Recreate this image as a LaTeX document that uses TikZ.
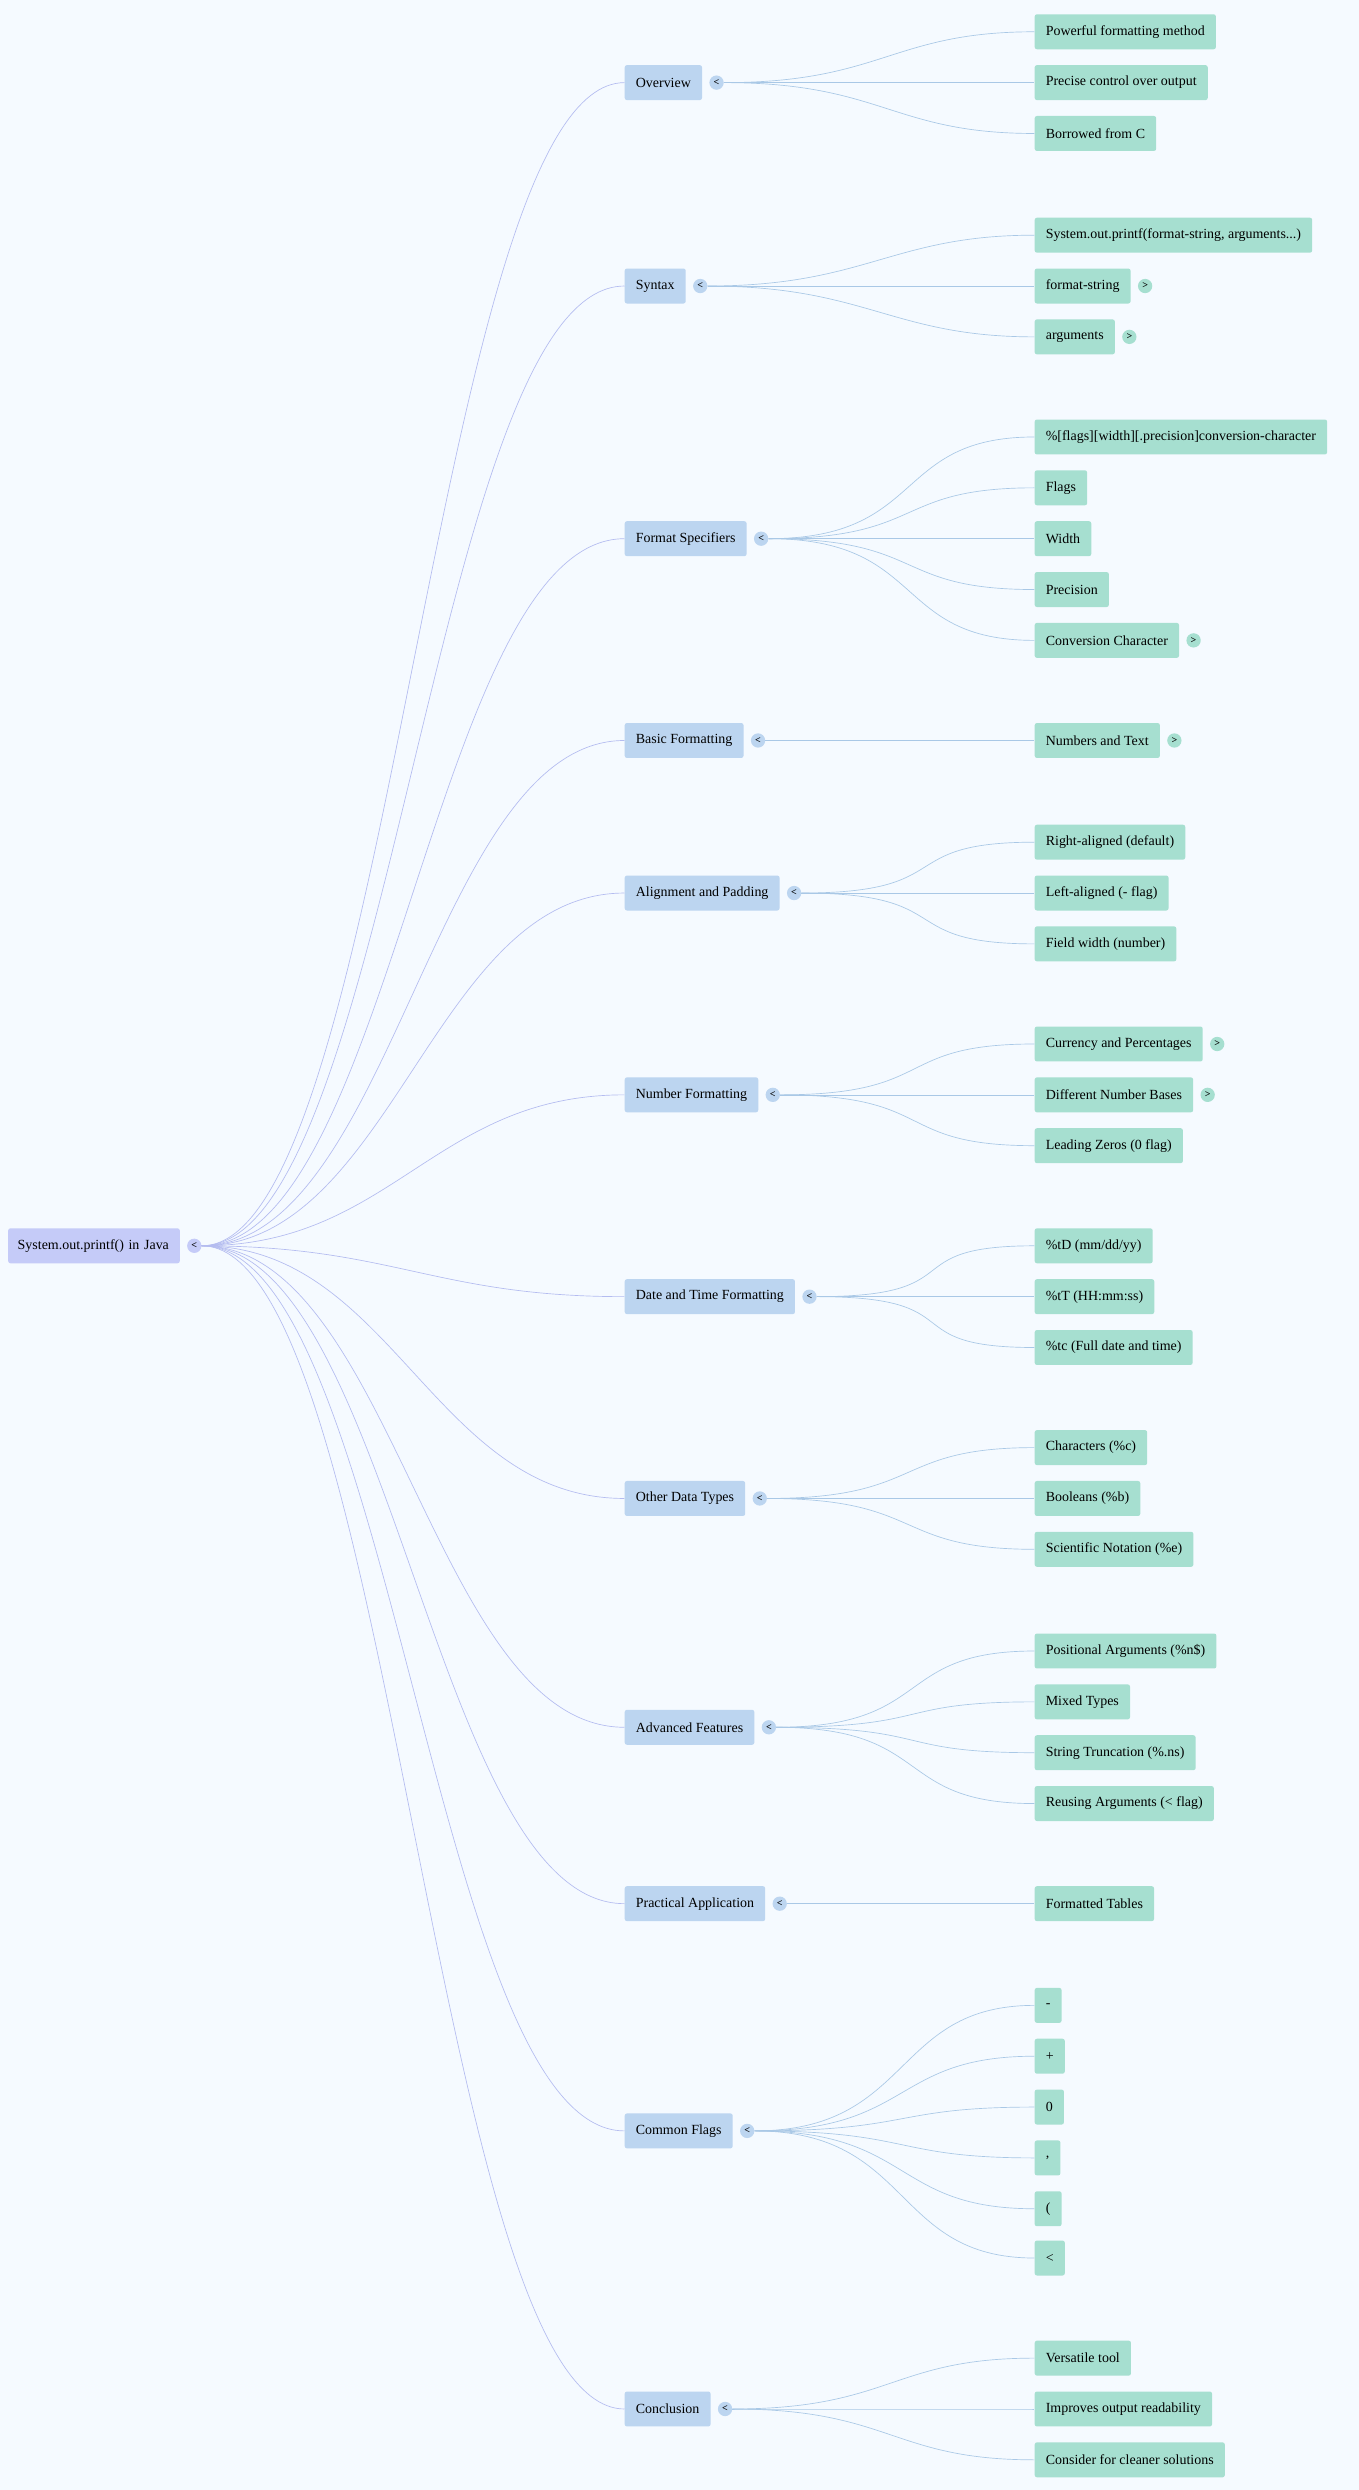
\documentclass[tikz,border=0pt]{standalone}
\usepackage{fontspec}
\setmainfont{Liberation Serif}
\usetikzlibrary{positioning,calc}
\definecolor{bgcol}{HTML}{F5FAFF}
\definecolor{rootcol}{HTML}{C5CBF8}
\definecolor{topiccol}{HTML}{BCD5F0}
\definecolor{leafcol}{HTML}{A6DFD0}
\definecolor{rootline}{HTML}{B4BCF0}
\definecolor{leafline}{HTML}{A9C8E6}
\tikzset{
  box/.style={anchor=west,rounded corners=2pt,minimum height=1.1cm,inner xsep=0.35cm,font=\fontsize{12.5}{14}\selectfont},
  rootbox/.style={box,fill=rootcol,inner xsep=0.3cm,text width=4.8cm,align=left},
  topicbox/.style={box,fill=topiccol},
  leafbox/.style={box,fill=leafcol},
  togl/.style={circle,inner sep=0pt,minimum size=0.45cm,font=\fontsize{9}{9}\selectfont\bfseries},
  rootedge/.style={draw=rootline,line width=0.6pt},
  leafedge/.style={draw=leafline,line width=0.6pt}
}
% topic: name, y, text
\newcommand\topic[3]{%
  \node[topicbox] (#1) at (393,#2) {#3};
  \node[togl,fill=topiccol] (#1t) at ($(#1.east)+(0.45cm,0)$) {\textless};
  \draw[rootedge] (roott.east) .. controls +(120,0) and +(-120,0) .. (#1.west);}
% leaf: parent, name, y, text
\newcommand\leaf[4]{%
  \node[leafbox] (#2) at (651,#3) {#4};
  \draw[leafedge] (#1t.east) .. controls +(100,0) and +(-90,0) .. (#2.west);}
\newcommand\more[1]{%
  \node[togl,fill=leafcol] (#1t) at ($(#1.east)+(0.45cm,0)$) {\textgreater};}
\begin{document}
\begin{tikzpicture}[x=0.05cm,y=-0.05cm]
\fill[bgcol] (0,0) rectangle (855,1567);
\useasboundingbox (0,0) rectangle (855,1567);
\node[rootbox] (root) at (5,784) {\mbox{System.out.printf() in Java}};
\node[togl,fill=rootcol] (roott) at ($(root.east)+(0.45cm,0)$) {\textless};
% topics
\topic{ov}{52}{Overview}
\topic{syn}{180}{Syntax}
\topic{fmt}{339}{Format Specifiers}
\topic{basic}{466}{Basic Formatting}
\topic{align}{562}{Alignment and Padding}
\topic{num}{689}{Number Formatting}
\topic{date}{816}{Date and Time Formatting}
\topic{other}{943}{Other Data Types}
\topic{adv}{1087}{Advanced Features}
\topic{prac}{1198}{Practical Application}
\topic{flags}{1341}{Common Flags}
\topic{concl}{1516}{Conclusion}
% leaves
\leaf{ov}{ov1}{20}{Powerful formatting method}
\leaf{ov}{ov2}{52}{Precise control over output}
\leaf{ov}{ov3}{84}{Borrowed from C}
\leaf{syn}{syn1}{148}{System.out.printf(format-string, arguments...)}
\leaf{syn}{syn2}{180}{format-string} \more{syn2}
\leaf{syn}{syn3}{212}{arguments} \more{syn3}
\leaf{fmt}{fmt1}{275}{\%[flags][width][.precision]conversion-character}
\leaf{fmt}{fmt2}{307}{Flags}
\leaf{fmt}{fmt3}{339}{Width}
\leaf{fmt}{fmt4}{371}{Precision}
\leaf{fmt}{fmt5}{403}{Conversion Character} \more{fmt5}
\leaf{basic}{basic1}{466}{Numbers and Text} \more{basic1}
\leaf{align}{align1}{530}{Right-aligned (default)}
\leaf{align}{align2}{562}{Left-aligned (- flag)}
\leaf{align}{align3}{594}{Field width (number)}
\leaf{num}{num1}{657}{Currency and Percentages} \more{num1}
\leaf{num}{num2}{689}{Different Number Bases} \more{num2}
\leaf{num}{num3}{721}{Leading Zeros (0 flag)}
\leaf{date}{date1}{784}{\%tD (mm/dd/yy)}
\leaf{date}{date2}{816}{\%tT (HH:mm:ss)}
\leaf{date}{date3}{848}{\%tc (Full date and time)}
\leaf{other}{other1}{911}{Characters (\%c)}
\leaf{other}{other2}{943}{Booleans (\%b)}
\leaf{other}{other3}{975}{Scientific Notation (\%e)}
\leaf{adv}{adv1}{1039}{Positional Arguments (\%n\$)}
\leaf{adv}{adv2}{1071}{Mixed Types}
\leaf{adv}{adv3}{1103}{String Truncation (\%.ns)}
\leaf{adv}{adv4}{1135}{Reusing Arguments (< flag)}
\leaf{prac}{prac1}{1198}{Formatted Tables}
\leaf{flags}{flags1}{1262}{-}
\leaf{flags}{flags2}{1294}{+}
\leaf{flags}{flags3}{1326}{0}
\leaf{flags}{flags4}{1358}{,}
\leaf{flags}{flags5}{1390}{(}
\leaf{flags}{flags6}{1421}{<}
\leaf{concl}{concl1}{1484}{Versatile tool}
\leaf{concl}{concl2}{1516}{Improves output readability}
\leaf{concl}{concl3}{1548}{Consider for cleaner solutions}
\end{tikzpicture}
\end{document}
